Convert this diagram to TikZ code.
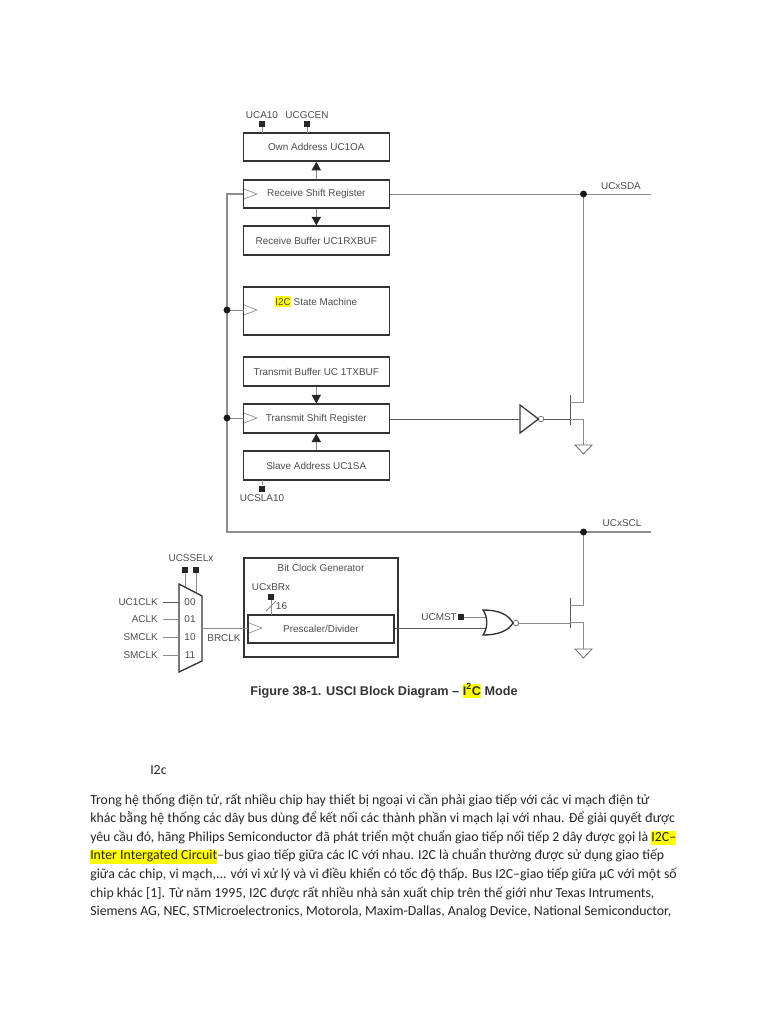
\documentclass[tikz,border=0pt]{standalone}
\usepackage{fontspec}
\setmainfont{Carlito}
\newfontfamily\figfont{Liberation Sans}
\usetikzlibrary{arrows.meta}
\setlength{\fboxsep}{0pt}
\definecolor{wire}{gray}{0.55}
\definecolor{boxline}{gray}{0.2}
\definecolor{figtext}{gray}{0.3}
\definecolor{hl}{RGB}{255,255,0}
\tikzset{
  x=0.75pt,y=-0.75pt,
  regbox/.style={draw=boxline,line width=1.1pt,fill=white,minimum width=109.5pt,inner sep=0pt,font=\figfont\fontsize{7.45pt}{8.5pt}\selectfont,text=figtext},
  flab/.style={inner sep=0pt,font=\figfont\fontsize{7.45pt}{8.5pt}\selectfont,text=figtext},
  wireline/.style={draw=wire,line width=0.7pt},
  darkwire/.style={draw=black!65,line width=0.7pt},
  sq/.style={fill=black!85,draw=none,minimum size=4.5pt,inner sep=0pt},
  dot/.style={circle,fill=black!90,draw=none,minimum size=5.2pt,inner sep=0pt},
  bubble/.style={circle,draw=black!60,fill=white,line width=0.5pt,minimum size=4.2pt,inner sep=0pt},
  clk/.style={draw=wire,fill=white,line width=0.5pt},
  tip/.style={-{Triangle[length=6.5pt,width=7pt,color=black!85]}},
  gnd/.style={draw=black!60,fill=white,line width=0.6pt,line join=miter},
  para/.style={anchor=base west,inner sep=0pt,font=\fontsize{10.36pt}{12pt}\selectfont,text=black!85},
}
\begin{document}
\begin{tikzpicture}
\useasboundingbox[fill=white] (0,0) rectangle (768,1024);
% register boxes
\node[regbox,minimum height=21pt] (own) at (316.3,147) {Own Address UC1OA};
\node[regbox,minimum height=21pt] (rsr) at (316.3,194) {\hspace*{0pt}Receive Shift Register};
\node[regbox,minimum height=21.5pt] (rbuf) at (316.3,240.5) {Receive Buffer UC1RXBUF};
\node[regbox,minimum height=36pt] (fsm) at (316.3,311) {};
\node[flab,anchor=base] (fsmt) at (316.3,305) {\colorbox{hl}{\rule[-1.5pt]{0pt}{8pt}I2C} State Machine};
\node[regbox,minimum height=21.5pt] (tbuf) at (316.3,371.5) {Transmit Buffer UC 1TXBUF};
\node[regbox,minimum height=21.5pt] (tsr) at (316.3,418.5) {Transmit Shift Register};
\node[regbox,minimum height=21.5pt] (sa) at (316.3,465.5) {Slave Address UC1SA};
% inter-box arrows
\draw[wireline,tip] (rsr.north) -- (own.south);
\draw[wireline,tip] (rsr.south) -- (rbuf.north);
\draw[wireline,tip] (tbuf.south) -- (tsr.north);
\draw[wireline,tip] (sa.north) -- (tsr.south);
% top control bits
\node[flab] (uca) at (262,115) {UCA10};
\node[flab] (ucg) at (307,115) {UCGCEN};
\node[sq] (sqa) at (262,124) {};
\node[sq] (sqg) at (307,124) {};
\draw[wireline] (sqa) -- (262,133);
\draw[wireline] (sqg) -- (307,133);
\node[sq] (sqs) at (262,488.5) {};
\node[flab] (ucs) at (262,498) {UCSLA10};
\draw[wireline] (262,480) -- (sqs);
% clock bus
\coordinate (bt) at (227,194);
\coordinate (bb) at (227,532);
\coordinate (sclend) at (651,532);
\coordinate (j1) at (227,310);
\coordinate (j2) at (227,418);
\draw[wireline,line width=0.9pt] (rsr.west) -- (bt) -- (bb) -- (sclend);
\draw[wireline] (j1) -- (243.5,310);
\draw[wireline] (j2) -- (243.5,418);
\foreach \y in {194,310,418}{\draw[clk] (244,\y-5) -- (257,\y) -- (244,\y+5);}
\node[dot] (d1) at (j1) {};
\node[dot] (d2) at (j2) {};
% SDA
\coordinate (sdaend) at (651,194);
\coordinate (jsda) at (583.5,194);
\coordinate (jscl) at (583.5,532);
\draw[wireline] (rsr.east) -- (sdaend);
\node[flab] (sda) at (621,186) {UCxSDA};
\node[flab] (scl) at (622,523) {UCxSCL};
% inverter and transistor
\node[bubble] (b1) at (541,419) {};
\draw[draw=black!75,line width=1pt,fill=white,line join=miter] (520,405) -- (538.5,419) -- (520,433) -- cycle;
\draw[darkwire] (tsr.east |- 0,419) -- (520,419);
\draw[darkwire] (b1) -- (570,419);
\draw[darkwire] (570,395) -- (570,425);
\draw[wireline] (jsda) -- (583.5,402) -- (570,402);
\draw[wireline] (570,419) -- (583.5,419) -- (583.5,445);
\draw[gnd] (575,445) -- (592,445) -- (583.5,454) -- cycle;
\node[dot] (dsda) at (jsda) {};
% mux
\node[flab,anchor=center] (ssel) at (191,558) {UCSSELx};
\node[sq] (s1) at (185,570) {};
\node[sq] (s2) at (196,570) {};
\draw[wireline] (s1) -- (185,587);
\draw[wireline] (s2) -- (196,593);
\draw[draw=black!80,line width=1pt,fill=white,line join=miter] (179,584) -- (202,596) -- (202,661) -- (179,672) -- cycle;
\node[flab,anchor=east] (i0) at (158,602) {UC1CLK};
\node[flab,anchor=east] (i1) at (158,619) {ACLK};
\node[flab,anchor=east] (i2) at (158,637) {SMCLK};
\node[flab,anchor=east] (i3) at (158,655) {SMCLK};
\node[flab] (m0) at (190,602) {00};
\node[flab] (m1) at (190,619) {01};
\node[flab] (m2) at (190,637) {10};
\node[flab] (m3) at (190,655) {11};
\draw[darkwire] (i0.east)++(5,0) -- (179,602);
\draw[wireline] (i1.east)++(5,0) -- (179,619);
\draw[wireline] (i2.east)++(5,0) -- (179,637);
\draw[wireline] (i3.east)++(5,0) -- (179,655);
% bit clock generator
\node[draw=boxline,line width=1pt,fill=white,minimum width=115.5pt,minimum height=74.3pt,inner sep=0pt] (bcg) at (321,607.5) {};
\node[flab] (bcgt) at (321,568) {Bit Clock Generator};
\node[regbox,line width=1.2pt,minimum width=109.5pt,minimum height=21pt] (pre) at (321,629) {Prescaler/Divider};
\node[flab] (brx) at (271,587) {UCxBRx};
\node[sq] (sbr) at (271,597) {};
\draw[wireline] (sbr) -- (271,615);
\draw[wireline] (266,611) -- (276,601);
\node[flab] (n16) at (281.5,606) {16};
\draw[wireline] (202,628) -- (248,628);
\draw[clk] (249,623) -- (262,628) -- (249,633);
\node[flab] (brclk) at (224,638.5) {BRCLK};
% NOR and transistor
\node[flab,anchor=east] (mst) at (457,617) {UCMST};
\node[sq] (smst) at (461,617) {};
\draw[wireline] (smst) -- (487,617);
\draw[darkwire] (pre.east |- 0,628) -- (487,628);
\node[bubble] (b2) at (516,623) {};
\draw[draw=black!80,line width=1pt,fill=white] (483,610) .. controls (498,610) and (508,614) .. (513,623) .. controls (508,631) and (498,635) .. (483,635) .. controls (488,628) and (488,617) .. (483,610) -- cycle;
\draw[wireline] (b2) -- (570,623);
\draw[darkwire] (570,598) -- (570,628);
\draw[wireline] (jscl) -- (583.5,605) -- (570,605);
\draw[wireline] (570,622) -- (583.5,622) -- (583.5,649);
\draw[gnd] (575,649) -- (592,649) -- (583.5,658) -- cycle;
\node[dot] (dscl) at (jscl) {};
% caption
\node[anchor=base,inner sep=0pt,font=\figfont\bfseries\fontsize{9.5pt}{11pt}\selectfont,text=black!80] (cap) at (384,695) {Figure 38-1. USCI Block Diagram – \colorbox{hl}{\rule[-2.25pt]{0pt}{9.75pt}I\textsuperscript{2}C} Mode};
% document text
\node[para] (t0) at (150,774) {I2c};
\node[para] (t1) at (90,804) {Trong hệ thống điện tử, rất nhiều chip hay thiết bị ngoại vi cần phải giao tiếp với các vi mạch điện tử};
\node[para] (t2) at (90,822.6) {khác bằng hệ thống các dây bus dùng để kết nối các thành phần vi mạch lại với nhau. Để giải quyết được};
\node[para] (t3) at (90,841.2) {yêu cầu đó, hãng Philips Semiconductor đã phát triển một chuẩn giao tiếp nối tiếp 2 dây được gọi là \colorbox{hl}{\rule[-3pt]{0pt}{10.5pt}I2C–}};
\node[para] (t4) at (90,859.8) {\colorbox{hl}{\rule[-3pt]{0pt}{10.5pt}Inter Intergated Circuit}–bus giao tiếp giữa các IC với nhau. I2C là chuẩn thường được sử dụng giao tiếp};
\node[para] (t5) at (90,878.4) {giữa các chip, vi mạch,... với vi xử lý và vi điều khiển có tốc độ thấp. Bus I2C–giao tiếp giữa µC với một số};
\node[para] (t6) at (90,897) {chip khác [1]. Từ năm 1995, I2C được rất nhiều nhà sản xuất chip trên thế giới như Texas Intruments,};
\node[para] (t7) at (90,915.6) {Siemens AG, NEC, STMicroelectronics, Motorola, Maxim-Dallas, Analog Device, National Semiconductor,};
\end{tikzpicture}
\end{document}
